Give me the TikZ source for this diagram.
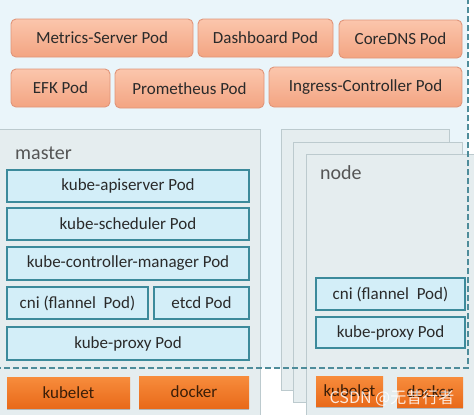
\documentclass[tikz,border=0pt]{standalone}
\usepackage{fontspec}
\setmainfont{Carlito}
\newfontfamily\cjk{Noto Sans CJK SC}
\usetikzlibrary{shadows}
\definecolor{bgblue}{HTML}{EAF5FA}
\definecolor{panelfill}{HTML}{E5EDEF}
\definecolor{paneledge}{HTML}{BCCACE}
\definecolor{podfill}{HTML}{D3EEF8}
\definecolor{podedge}{HTML}{3C8A9B}
\definecolor{toptop}{HTML}{FBC6AC}
\definecolor{topbot}{HTML}{F3A482}
\definecolor{topedge}{HTML}{E0957A}
\definecolor{ortop}{HTML}{F78C3C}
\definecolor{orbot}{HTML}{E96A1A}
\definecolor{ortext}{HTML}{3B1E08}
\definecolor{dashcol}{HTML}{4E8C9A}
\definecolor{txt}{HTML}{2A2A2A}
\definecolor{lbltxt}{HTML}{555555}
\tikzset{
  toppod/.style={draw=topedge, line width=0.9pt, rounded corners=5pt, top color=toptop, bottom color=topbot,
    text=txt, font=\fontsize{17}{20}\selectfont, inner sep=0pt},
  bluepod/.style={draw=podedge, line width=1.1pt, fill=podfill, text=txt,
    font=\fontsize{17}{20}\selectfont, inner sep=0pt},
  orangebox/.style={top color=ortop, bottom color=orbot, text=ortext,
    font=\fontsize{17}{20}\selectfont, inner sep=0pt,
    drop shadow={shadow xshift=0pt, shadow yshift=-1.5pt, opacity=0.5, fill=gray}},
  panel/.style={fill=panelfill, draw=paneledge, line width=0.8pt},
  lbl/.style={text=lbltxt, font=\fontsize{20}{24}\selectfont, inner sep=0pt, anchor=base west},
  dashline/.style={draw=dashcol, line width=1.4pt, dash pattern=on 6pt off 3pt}
}
\begin{document}
\begin{tikzpicture}[x=1pt,y=-1pt]
\useasboundingbox (0,0) rectangle (474,415);
\clip (0,0) rectangle (474,415);
\fill[white] (0,0) rectangle (474,415);
\fill[bgblue] (-5,-5) rectangle (468,368);

% top pods
\node[toppod, minimum width=182, minimum height=38] (ms) at (102,38) {Metrics-Server Pod};
\node[toppod, minimum width=135, minimum height=38] (db) at (265.5,38) {Dashboard Pod};
\node[toppod, minimum width=123, minimum height=38] (cd) at (400.5,39) {CoreDNS Pod};
\node[toppod, minimum width=99, minimum height=38] (efk) at (60.5,88) {EFK Pod};
\node[toppod, minimum width=149, minimum height=39] (prom) at (189.5,88.5) {Prometheus Pod};
\node[toppod, minimum width=193, minimum height=40] (ing) at (365.5,87) {Ingress-Controller Pod};

% panels
\draw[panel] (-2,129) rectangle (260,425);
\draw[panel] (281,129) rectangle (449,390);
\draw[panel] (293,142) rectangle (462,402);
\draw[panel] (306,154) rectangle (480,425);

% labels
\node[lbl] (mlabel) at (15,159) {master};
\node[lbl] (nlabel) at (320,179) {node};

% master pods
\node[bluepod, minimum width=242, minimum height=32] (api) at (128,186) {kube-apiserver Pod};
\node[bluepod, minimum width=242, minimum height=32] (sch) at (128,224) {kube-scheduler Pod};
\node[bluepod, minimum width=242, minimum height=33] (ctl) at (128,263.5) {kube-controller-manager Pod};
\node[bluepod, minimum width=141, minimum height=32] (cni) at (77.5,303) {cni (flannel\ \ Pod)};
\node[bluepod, minimum width=95, minimum height=32] (etcd) at (201.5,303) {etcd Pod};
\node[bluepod, minimum width=242, minimum height=33] (proxy) at (128,343.5) {kube-proxy Pod};

% node pods
\node[bluepod, minimum width=149, minimum height=32] (ncni) at (390.5,294) {cni (flannel\ \ Pod)};
\node[bluepod, minimum width=149, minimum height=31] (nproxy) at (390.5,332.5) {kube-proxy Pod};

% dashed boundary
\draw[dashline] (-5,368) -- (468,368) -- (468,-5);

% orange boxes
\node[orangebox, minimum width=123, minimum height=31] (kubelet) at (68.5,392.5) {kubelet};
\node[orangebox, minimum width=110, minimum height=32] (docker) at (194,392) {docker};
\node[orangebox, minimum width=67, minimum height=30] (nkubelet) at (349.5,391) {kubelet};
\node[orangebox, minimum width=66, minimum height=30] (ndocker) at (430,392) {docker};

% watermark
\node[text=white, opacity=0.85, font=\fontsize{16}{18}\selectfont\cjk, inner sep=0pt] (wm) at (392,398) {CSDN @无昔行者};
\end{tikzpicture}
\end{document}
